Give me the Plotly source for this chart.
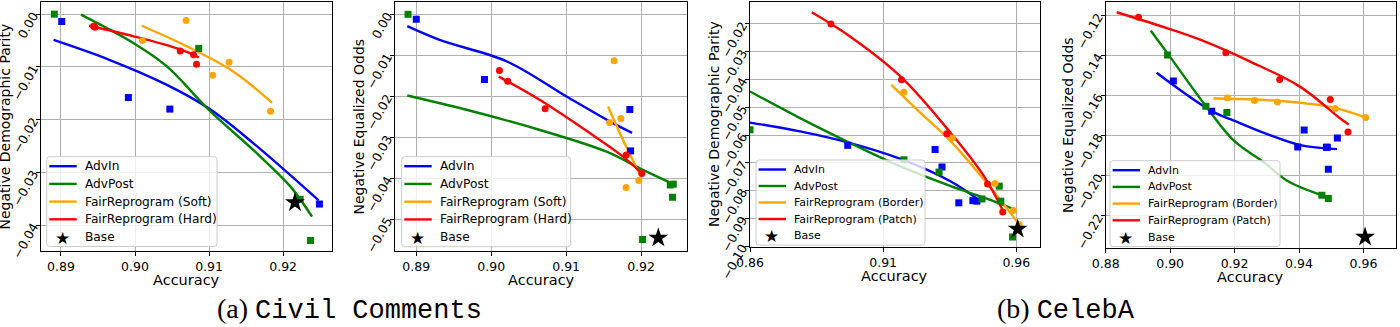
import plotly.graph_objects as go

# ---------------- DATA ----------------
legend_names_cc = ["AdvIn", "AdvPost", "FairReprogram (Soft)", "FairReprogram (Hard)", "Base"]
legend_names_ca = ["AdvIn", "AdvPost", "FairReprogram (Border)", "FairReprogram (Patch)", "Base"]

# (a) Civil Comments - Negative Demographic Parity
p1_advin_x = [0.8901, 0.8991, 0.9047, 0.9249]
p1_advin_y = [-0.0014, -0.0158, -0.0180, -0.0360]
p1_advin_fx = [0.8890, 0.8966, 0.9043, 0.9100, 0.9160, 0.9248]
p1_advin_fy = [-0.0049, -0.0087, -0.0134, -0.0179, -0.0245, -0.0353]
p1_advpost_x = [0.8891, 0.9086, 0.9223, 0.9237]
p1_advpost_y = [0.0000, -0.0065, -0.0351, -0.0429]
p1_advpost_fx = [0.8927, 0.8998, 0.9043, 0.9100, 0.9160, 0.9210, 0.9239]
p1_advpost_fy = [-0.0001, -0.0055, -0.0099, -0.0182, -0.0258, -0.0327, -0.0384]
p1_soft_x = [0.9069, 0.9010, 0.9105, 0.9127, 0.9183]
p1_soft_y = [-0.0012, -0.0050, -0.0116, -0.0091, -0.0184]
p1_soft_fx = [0.9009, 0.9070, 0.9133, 0.9185]
p1_soft_fy = [-0.0022, -0.0061, -0.0109, -0.0168]
p1_hard_x = [0.8944, 0.8946, 0.9061, 0.9079, 0.9083]
p1_hard_y = [-0.0023, -0.0025, -0.0070, -0.0077, -0.0095]
p1_hard_fx = [0.8938, 0.8998, 0.9061, 0.9086]
p1_hard_fy = [-0.0022, -0.0042, -0.0067, -0.0082]
p1_base_x = [0.9216]
p1_base_y = [-0.0357]

# (a) Civil Comments - Negative Equalized Odds
p2_advin_x = [0.8900, 0.8991, 0.9185, 0.9186]
p2_advin_y = [-0.0012, -0.0159, -0.0232, -0.0333]
p2_advin_fx = [0.8888, 0.8932, 0.9021, 0.9101, 0.9163, 0.9188]
p2_advin_fy = [-0.0029, -0.0063, -0.0115, -0.0201, -0.0266, -0.0289]
p2_advpost_x = [0.8889, 0.9239, 0.9243, 0.9242, 0.9202]
p2_advpost_y = [0.0000, -0.0416, -0.0414, -0.0446, -0.0549]
p2_advpost_fx = [0.8888, 0.8976, 0.9065, 0.9154, 0.9199, 0.9241]
p2_advpost_fy = [-0.0198, -0.0237, -0.0282, -0.0335, -0.0376, -0.0412]
p2_soft_x = [0.9164, 0.9158, 0.9173, 0.9180, 0.9197]
p2_soft_y = [-0.0113, -0.0264, -0.0254, -0.0422, -0.0405]
p2_soft_fx = [0.9156, 0.9176, 0.9199]
p2_soft_fy = [-0.0225, -0.0307, -0.0392]
p2_hard_x = [0.9011, 0.9022, 0.9072, 0.9180, 0.9201]
p2_hard_y = [-0.0137, -0.0163, -0.0230, -0.0343, -0.0388]
p2_hard_fx = [0.9010, 0.9065, 0.9132, 0.9176, 0.9201]
p2_hard_fy = [-0.0152, -0.0209, -0.0290, -0.0347, -0.0388]
p2_base_x = [0.9223]
p2_base_y = [-0.0545]

# (b) CelebA - Negative Demographic Parity
p3_advin_x = [0.8967, 0.9295, 0.9321, 0.9384, 0.9437, 0.9452]
p3_advin_y = [-0.0637, -0.0652, -0.0715, -0.0844, -0.0836, -0.0838]
p3_advin_fx = [0.8600, 0.8788, 0.8977, 0.9165, 0.9354, 0.9454]
p3_advin_fy = [-0.0555, -0.0587, -0.0629, -0.0686, -0.0767, -0.0830]
p3_advpost_x = [0.8600, 0.9178, 0.9310, 0.9471, 0.9536, 0.9542, 0.9586]
p3_advpost_y = [-0.0581, -0.0689, -0.0733, -0.0830, -0.0784, -0.0838, -0.0967]
p3_advpost_fx = [0.8600, 0.8788, 0.8977, 0.9165, 0.9354, 0.9492, 0.9593]
p3_advpost_fy = [-0.0443, -0.0539, -0.0629, -0.0713, -0.0784, -0.0830, -0.0868]
p3_border_x = [0.9178, 0.9360, 0.9520, 0.9589, 0.9611]
p3_border_y = [-0.0446, -0.0611, -0.0774, -0.0872, -0.0922]
p3_border_fx = [0.9131, 0.9228, 0.9354, 0.9479, 0.9611]
p3_border_fy = [-0.0419, -0.0509, -0.0623, -0.0761, -0.0922]
p3_patch_x = [0.8904, 0.9169, 0.9339, 0.9492, 0.9549]
p3_patch_y = [-0.0200, -0.0401, -0.0595, -0.0776, -0.0877]
p3_patch_fx = [0.8832, 0.8977, 0.9165, 0.9354, 0.9479, 0.9549]
p3_patch_fy = [-0.0158, -0.0246, -0.0389, -0.0593, -0.0749, -0.0871]
p3_base_x = [0.9605]
p3_base_y = [-0.0938]

# (b) CelebA - Negative Equalized Odds
p4_advin_x = [0.9010, 0.9129, 0.9416, 0.9396, 0.9485, 0.9488, 0.9519, 0.9491]
p4_advin_y = [-0.1528, -0.1678, -0.1772, -0.1857, -0.1858, -0.1858, -0.1812, -0.1968]
p4_advin_fx = [0.8958, 0.9129, 0.9198, 0.9301, 0.9404, 0.9518]
p4_advin_fy = [-0.1487, -0.1678, -0.1725, -0.1792, -0.1847, -0.1867]
p4_advpost_x = [0.8992, 0.9111, 0.9176, 0.9471, 0.9491]
p4_advpost_y = [-0.1398, -0.1653, -0.1685, -0.2097, -0.2113]
p4_advpost_fx = [0.8940, 0.8992, 0.9111, 0.9198, 0.9291, 0.9363, 0.9476]
p4_advpost_fy = [-0.1277, -0.1390, -0.1653, -0.1825, -0.1933, -0.2025, -0.2100]
p4_border_x = [0.9178, 0.9262, 0.9333, 0.9512, 0.9607]
p4_border_y = [-0.1612, -0.1625, -0.1632, -0.1665, -0.1710]
p4_border_fx = [0.9134, 0.9301, 0.9497, 0.9607]
p4_border_fy = [-0.1615, -0.1623, -0.1657, -0.1710]
p4_patch_x = [0.8902, 0.9173, 0.9340, 0.9497, 0.9552]
p4_patch_y = [-0.1210, -0.1387, -0.1520, -0.1620, -0.1782]
p4_patch_fx = [0.8834, 0.8992, 0.9095, 0.9250, 0.9404, 0.9528, 0.9554]
p4_patch_fy = [-0.1185, -0.1265, -0.1323, -0.1432, -0.1557, -0.1715, -0.1745]
p4_base_x = [0.9605]
p4_base_y = [-0.2305]

y_titles = ["Negative Demographic Parity", "Negative Equalized Odds",
            "Negative Demographic Parity", "Negative Equalized Odds"]
captions = [("(a) ", "Civil Comments"), ("(b) ", "CelebA")]

# ---------------- FIGURE ----------------
W, H = 1400, 327
BLUE, GREEN, ORANGE, RED = "#0000ff", "#008000", "#ffa500", "#ff0000"
FONT = "DejaVu Sans"

fig = go.Figure()


def px(x):
    return x / W


def py(y):
    return 1 - y / H


panels = [
    dict(dom_x=(41, 332), dom_y=(2, 251), xr=(0.8873, 0.9266), yr=(-0.0449, 0.0023),
         xt=dict(dtick=0.01, tick0=0.89), yt=dict(dtick=0.01, tick0=0.0),
         names=legend_names_cc, box=(46.7, 156.7, 217, 246.5), lfont=12.2, ytitle_x=5,
         data=[(p1_advin_x, p1_advin_y, p1_advin_fx, p1_advin_fy),
               (p1_advpost_x, p1_advpost_y, p1_advpost_fx, p1_advpost_fy),
               (p1_soft_x, p1_soft_y, p1_soft_fx, p1_soft_fy),
               (p1_hard_x, p1_hard_y, p1_hard_fx, p1_hard_fy)],
         base=(p1_base_x, p1_base_y)),
    dict(dom_x=(395, 687), dom_y=(2, 251), xr=(0.88716, 0.92613), yr=(-0.0577, 0.0030),
         xt=dict(dtick=0.01, tick0=0.89), yt=dict(dtick=0.01, tick0=0.0),
         names=legend_names_cc, box=(401.7, 156.7, 570.7, 246.7), lfont=12.2, ytitle_x=359,
         data=[(p2_advin_x, p2_advin_y, p2_advin_fx, p2_advin_fy),
               (p2_advpost_x, p2_advpost_y, p2_advpost_fx, p2_advpost_fy),
               (p2_soft_x, p2_soft_y, p2_soft_fx, p2_soft_fy),
               (p2_hard_x, p2_hard_y, p2_hard_fx, p2_hard_fy)],
         base=(p2_base_x, p2_base_y)),
    dict(dom_x=(750, 1040), dom_y=(2, 247), xr=(0.86, 0.9689), yr=(-0.1003, -0.0121),
         xt=dict(dtick=0.05, tick0=0.86), yt=dict(dtick=0.01, tick0=0.0),
         names=legend_names_ca, box=(756, 160, 925, 245), lfont=11.0, ytitle_x=713.5,
         data=[(p3_advin_x, p3_advin_y, p3_advin_fx, p3_advin_fy),
               (p3_advpost_x, p3_advpost_y, p3_advpost_fx, p3_advpost_fy),
               (p3_border_x, p3_border_y, p3_border_fx, p3_border_fy),
               (p3_patch_x, p3_patch_y, p3_patch_fx, p3_patch_fy)],
         base=(p3_base_x, p3_base_y)),
    dict(dom_x=(1105.7, 1396), dom_y=(2, 248), xr=(0.88, 0.9701), yr=(-0.236, -0.1134),
         xt=dict(dtick=0.02, tick0=0.88), yt=dict(dtick=0.02, tick0=0.0),
         names=legend_names_ca, box=(1110, 160.7, 1280, 246.5), lfont=11.0, ytitle_x=1068,
         data=[(p4_advin_x, p4_advin_y, p4_advin_fx, p4_advin_fy),
               (p4_advpost_x, p4_advpost_y, p4_advpost_fx, p4_advpost_fy),
               (p4_border_x, p4_border_y, p4_border_fx, p4_border_fy),
               (p4_patch_x, p4_patch_y, p4_patch_fx, p4_patch_fy)],
         base=(p4_base_x, p4_base_y)),
]

colors = [BLUE, GREEN, ORANGE, RED]
symbols = ["square", "square", "circle", "circle"]
annotations = []
shapes = []
layout_upd = {}


def rounded_box(x0, y0, x1, y1, r=3):
    pts = [
        f"M {px(x0 + r)},{py(y0)}", f"L {px(x1 - r)},{py(y0)}", f"Q {px(x1)},{py(y0)} {px(x1)},{py(y0 + r)}",
        f"L {px(x1)},{py(y1 - r)}", f"Q {px(x1)},{py(y1)} {px(x1 - r)},{py(y1)}",
        f"L {px(x0 + r)},{py(y1)}", f"Q {px(x0)},{py(y1)} {px(x0)},{py(y1 - r)}",
        f"L {px(x0)},{py(y0 + r)}", f"Q {px(x0)},{py(y0)} {px(x0 + r)},{py(y0)}", "Z"]
    return " ".join(pts)


for i, p in enumerate(panels):
    n = i + 1
    xa = "x" if n == 1 else f"x{n}"
    ya = "y" if n == 1 else f"y{n}"
    for k in range(4):
        sx, sy, fx, fy = p["data"][k]
        fig.add_trace(go.Scatter(x=fx, y=fy, mode="lines", line=dict(color=colors[k], width=2.4, shape="spline"),
                                 name=p["names"][k], xaxis=xa, yaxis=ya, showlegend=False, hoverinfo="skip"))
    for k in range(4):
        sx, sy, fx, fy = p["data"][k]
        fig.add_trace(go.Scatter(x=sx, y=sy, mode="markers", name=p["names"][k],
                                 marker=dict(color=colors[k], symbol=symbols[k], size=7, line=dict(width=0)),
                                 xaxis=xa, yaxis=ya, showlegend=False))
    fig.add_trace(go.Scatter(x=p["base"][0], y=p["base"][1], mode="markers", name=p["names"][4],
                             marker=dict(color="black", symbol="star", size=15, line=dict(width=0)),
                             xaxis=xa, yaxis=ya, showlegend=False))

    axis_common = dict(showline=True, mirror=True, linecolor="black", linewidth=1.2,
                       showgrid=True, gridcolor="#b0b0b0", gridwidth=0.8, zeroline=False,
                       ticks="outside", ticklen=4, tickcolor="black", automargin=False,
                       tickfont=dict(family=FONT, size=12.5, color="black"))
    xkey = "xaxis" if n == 1 else f"xaxis{n}"
    ykey = "yaxis" if n == 1 else f"yaxis{n}"
    layout_upd[xkey] = dict(axis_common, domain=[px(p["dom_x"][0]), px(p["dom_x"][1])],
                            range=list(p["xr"]), anchor=ya, tickformat=".2f",
                            tickmode="linear", **p["xt"])
    layout_upd[ykey] = dict(axis_common, domain=[py(p["dom_y"][1]), py(p["dom_y"][0])],
                            range=list(p["yr"]), anchor=xa, tickformat=".2f",
                            tickmode="linear", tickangle=-60, **p["yt"])

    # legend (drawn manually, matplotlib style)
    x0, y0, x1, y1 = p["box"]
    shapes.append(dict(type="path", path=rounded_box(x0, y0, x1, y1), xref="paper", yref="paper",
                       fillcolor="rgba(255,255,255,0.8)", line=dict(color="#cccccc", width=1), layer="above"))
    step = (y1 - y0 - 19) / 4
    for k in range(5):
        ry = y0 + 9.5 + step * k
        if k < 4:
            shapes.append(dict(type="line", xref="paper", yref="paper", x0=px(x0 + 2.6), x1=px(x0 + 30),
                               y0=py(ry), y1=py(ry), line=dict(color=colors[k], width=2.4), layer="above"))
        else:
            annotations.append(dict(text="★", x=px(x0 + 15.5), y=py(ry + 0.5), xref="paper", yref="paper",
                                    showarrow=False, xanchor="center", yanchor="middle",
                                    font=dict(family=FONT, size=17, color="black")))
        annotations.append(dict(text=p["names"][k], x=px(x0 + 36), y=py(ry), xref="paper", yref="paper",
                                showarrow=False, xanchor="left", yanchor="middle",
                                font=dict(family=FONT, size=p["lfont"], color="black")))

    cx = (p["dom_x"][0] + p["dom_x"][1]) / 2
    annotations.append(dict(text="Accuracy", x=px(cx), y=py(p["dom_y"][1] + 19), xref="paper", yref="paper",
                            showarrow=False, xanchor="center", yanchor="top",
                            font=dict(family=FONT, size=14.5, color="black")))
    cy = (p["dom_y"][0] + p["dom_y"][1]) / 2
    annotations.append(dict(text=y_titles[i], x=px(p["ytitle_x"]), y=py(cy), xref="paper", yref="paper",
                            showarrow=False, xanchor="center", yanchor="middle", textangle=-90,
                            font=dict(family=FONT, size=14, color="black")))

# captions
for (lab, name), cxp in zip(captions, [349, 1066]):
    annotations.append(dict(text=lab + '<span style="font-family:Liberation Mono;font-size:27px">' + name + "</span>",
                            x=px(cxp), y=py(309), xref="paper", yref="paper", showarrow=False,
                            xanchor="center", yanchor="middle",
                            font=dict(family="Liberation Serif", size=28, color="black")))

fig.update_layout(width=W, height=H, margin=dict(l=0, r=0, t=0, b=0, autoexpand=False),
                  paper_bgcolor="white", plot_bgcolor="white", showlegend=False,
                  annotations=annotations, shapes=shapes, **layout_upd)

fig.write_html("out.html", config={"displayModeBar": False},
               post_script="document.body.style.margin='0';document.body.style.overflow='hidden';")
